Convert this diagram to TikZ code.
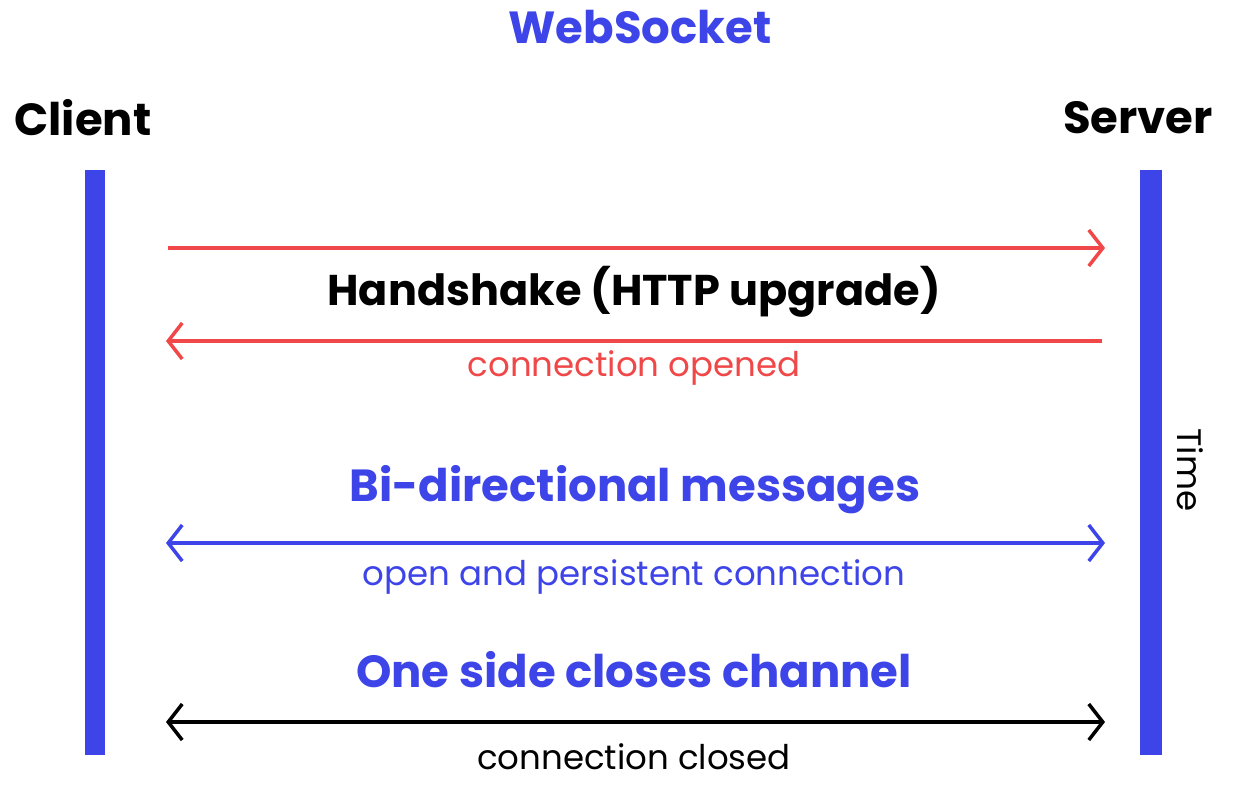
\documentclass[tikz,border=0pt]{standalone}
\usepackage{fontspec}
\setmainfont{Poppins}
\usetikzlibrary{arrows.meta}
\definecolor{wsblue}{HTML}{3D44E8}
\definecolor{wsred}{HTML}{F04848}
\begin{document}
\begin{tikzpicture}[x=1pt,y=-1pt,
  bar/.style={fill=wsblue,draw=none},
  msg/.style={line width=3.5pt,arrows={-Straight Barb[length=14pt,width=36pt,line width=3.5pt]}},
  msgb/.style={line width=3.5pt,arrows={Straight Barb[length=14pt,width=36pt,line width=3.5pt]-Straight Barb[length=14pt,width=36pt,line width=3.5pt]}},
  head/.style={font=\fontsize{45}{50}\selectfont\bfseries},
  sub/.style={font=\fontsize{34}{40}\selectfont}]
\useasboundingbox (0,0) rectangle (1238,808);
\node[head,text=wsblue] (title) at (640,27) {WebSocket};
\node[head] (client) at (83,118) {Client};
\node[head] (server) at (1138,118) {Server};
\fill[bar] (85,170) rectangle (105,755);
\fill[bar] (1140,170) rectangle (1162,755);
\coordinate (a1) at (168,248); \coordinate (b1) at (1105,248);
\coordinate (a2) at (1102,341); \coordinate (b2) at (166,341);
\coordinate (a3) at (166,543); \coordinate (b3) at (1105,543);
\coordinate (a4) at (166,722); \coordinate (b4) at (1105,722);
\draw[msg,wsred] (a1) -- (b1);
\draw[msg,wsred] (a2) -- (b2);
\draw[msgb,wsblue] (a3) -- (b3);
\draw[msgb,black] (a4) -- (b4);
\node[font=\fontsize{43}{48}\selectfont\bfseries] (hs) at (634,292) {Handshake (HTTP upgrade)};
\node[sub,text=wsred] (co) at (634,368) {connection opened};
\node[head,text=wsblue] (bi) at (635,490) {Bi-directional messages};
\node[sub,text=wsblue] (op) at (634,577) {open and persistent connection};
\node[head,text=wsblue] (os) at (634,670) {One side closes channel};
\node[sub] (cc) at (634,757) {connection closed};
\node[sub,rotate=-90] (time) at (1190,470) {Time};
\end{tikzpicture}
\end{document}
